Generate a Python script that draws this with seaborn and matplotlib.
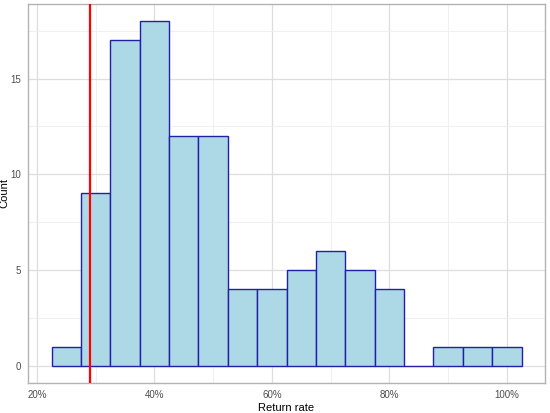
import numpy as np
import pandas as pd
import matplotlib
matplotlib.use("Agg")
import matplotlib.pyplot as plt
from matplotlib.ticker import FuncFormatter, MultipleLocator
import seaborn as sns

# bin centres (return rate, %) and counts
centros = [25, 30, 35, 40, 45, 50, 55, 60, 65, 70, 75, 80, 85, 90, 95, 100]
conteos = [1, 9, 17, 18, 12, 12, 4, 4, 5, 6, 5, 4, 0, 1, 1, 1]
umbral = 29.0

data = pd.DataFrame({"rate": centros, "n": conteos})

sns.set_style("white")
plt.rcParams["font.family"] = ["Liberation Sans", "DejaVu Sans"]

fig = plt.figure(figsize=(5.5, 4.13), dpi=100)
ax = fig.add_axes([0.051, 0.0726, 0.940, 0.918])

sns.histplot(data=data, x="rate", weights="n", binwidth=5, binrange=(22.5, 102.5),
             ax=ax, color="#ADD8E6", edgecolor="#2020a8", linewidth=1.0,
             alpha=1, zorder=3)
ax.axvline(umbral, color="#ff0000", linewidth=1.6, zorder=4)

ax.set_xlim(18.5, 106.5)
ax.set_ylim(-0.9, 18.9)
ax.xaxis.set_major_locator(MultipleLocator(20))
ax.xaxis.set_minor_locator(MultipleLocator(10))
ax.yaxis.set_major_locator(MultipleLocator(5))
ax.yaxis.set_minor_locator(MultipleLocator(2.5))
ax.xaxis.set_major_formatter(FuncFormatter(lambda v, p: f"{v:.0f}%"))

ax.grid(which="major", color="#dedede", linewidth=0.9, zorder=0)
ax.grid(which="minor", color="#eeeeee", linewidth=0.6, zorder=0)
ax.set_axisbelow(True)
for s in ax.spines.values():
    s.set_color("#b3b3b3")
    s.set_linewidth(1.0)

ax.tick_params(which="major", length=3, color="#b3b3b3", width=0.8,
               labelsize=7, labelcolor="#4d4d4d", pad=2)
ax.tick_params(which="minor", length=0)
ax.set_xlabel("Return rate", fontsize=8, color="black", labelpad=2)
ax.set_ylabel("Count", fontsize=8, color="black", labelpad=1)

fig.savefig("out.png", dpi=100)
